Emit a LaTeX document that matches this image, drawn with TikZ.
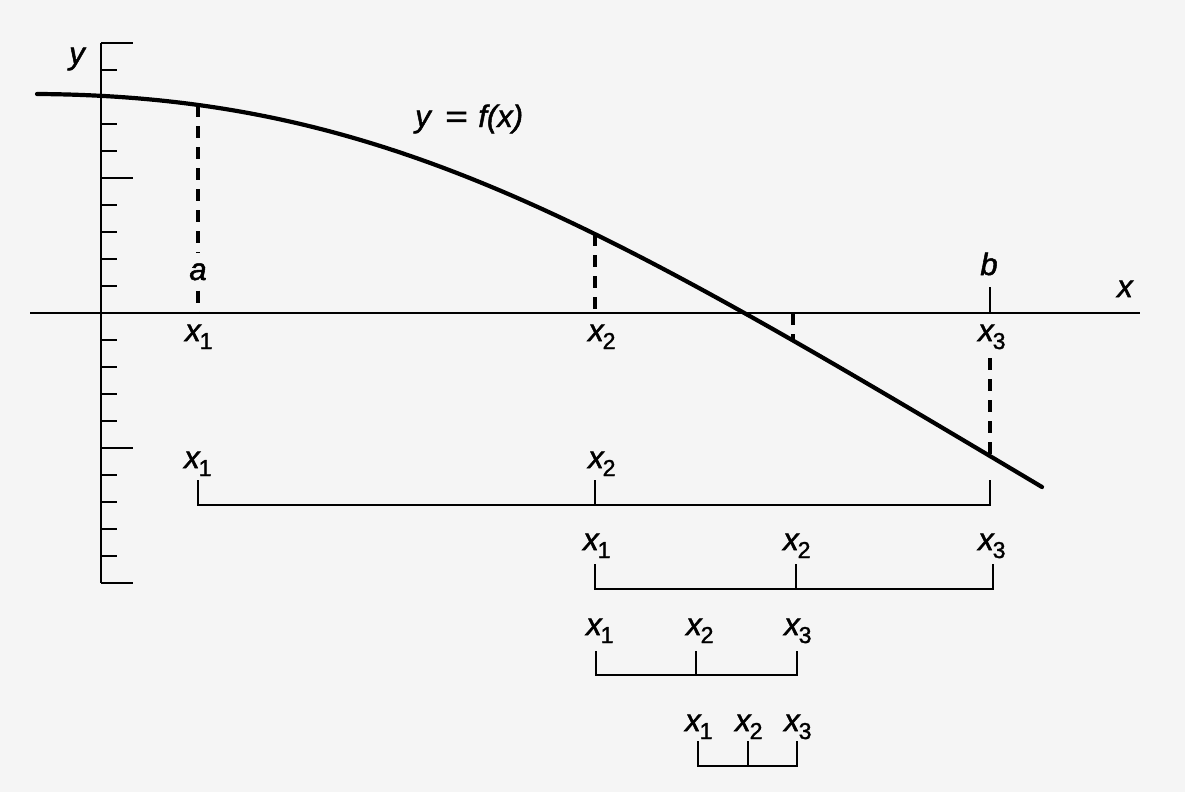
\documentclass[tikz,border=0pt]{standalone}
\usepackage{graphicx}
\usepackage{fontspec}
\setmainfont{Liberation Sans}
\newfontfamily\lblfont{Liberation Sans}[UprightFeatures={FakeBold=1.6}, ItalicFeatures={FakeBold=1.6}]
\definecolor{bg}{RGB}{245,245,245}
\newcommand{\xsb}[1]{x\kern-1pt\raisebox{-8pt}{\upshape\fontsize{23}{23}\selectfont #1}}
\begin{document}
\begin{tikzpicture}[x=1pt,y=-1pt,
  lbl/.style={inner sep=0pt, anchor=base west, font=\lblfont\fontsize{31}{36}\selectfont\itshape},
  axisline/.style={line width=2.8pt},
  curveline/.style={line width=4.2pt, line cap=round},
  dashline/.style={line width=4pt, dash pattern=on 12pt off 9pt},
  tk/.style={line width=2.4pt},
  brk/.style={line width=2.2pt, line join=miter}]
\fill[bg] (0,0) rectangle (1185,792);
\useasboundingbox (0,0) rectangle (1185,792);

% axes
\coordinate (ytop) at (101,43);
\coordinate (ybot) at (101,583);
\coordinate (xleft) at (30,313);
\coordinate (xright) at (1140,313);
\draw[axisline] (ytop) -- (ybot);
\draw[axisline] (xleft) -- (xright);
\foreach \t in {70,97,124,151,205,232,259,286,340,367,394,421,475,502,529,556}
  \draw[tk] (101,\t) -- (117,\t);
\foreach \t in {43,178,448,583}
  \draw[tk] (101,\t) -- (133,\t);

\node[lbl] (ylab) at (69,64) {y};
\node[lbl] (xlab) at (1117,297) {x};

% curve
\coordinate (cstart) at (37,94);
\coordinate (cend) at (1042,487);
\draw[curveline] (cstart) .. controls (387,96) and (600,224) .. (cend);
\node[lbl] (flab) at (415,127) {y\hspace{14pt}\scalebox{1.25}[1]{=}\hspace{11pt}f(x)};

% points on curve and axis
\coordinate (ca) at (198,105);
\coordinate (aax) at (198,313);
\coordinate (c2) at (595,234);
\coordinate (a2) at (595,313);
\coordinate (cm) at (793,340);
\coordinate (am) at (793,313);
\coordinate (c3) at (990,456);
\coordinate (d3) at (990,358);
\coordinate (bax) at (990,313);
\coordinate (btop) at (990,287);

\node[lbl, anchor=base, inner xsep=0pt, inner ysep=10pt] (alab) at (198,280) {a};
\node[lbl, anchor=base] (blab) at (989,275) {b};

\draw[dashline] (ca) -- (alab.north);
\draw[dashline] (alab.south) -- (aax);
\draw[dashline] (c2) -- (a2);
\draw[dashline] (am) -- (cm);
\draw[dashline] (d3) -- (c3);
\draw[tk] (btop) -- (bax);

% row 1 labels
\node[lbl] (r1a) at (185,341) {\xsb{1}};
\node[lbl] (r1b) at (588,341) {\xsb{2}};
\node[lbl] (r1c) at (978,341) {\xsb{3}};

% row 2
\node[lbl] (r2a) at (184,468) {\xsb{1}};
\node[lbl] (r2b) at (588,468) {\xsb{2}};
\coordinate (p2a) at (198,480); \coordinate (q2a) at (198,505);
\coordinate (p2b) at (595,480); \coordinate (q2b) at (595,505);
\coordinate (p2c) at (990,480); \coordinate (q2c) at (990,505);
\draw[brk] (p2a) -- (q2a) -- (q2c) -- (p2c);
\draw[brk] (p2b) -- (q2b);

% row 3
\node[lbl] (r3a) at (583,550) {\xsb{1}};
\node[lbl] (r3b) at (783,550) {\xsb{2}};
\node[lbl] (r3c) at (978,550) {\xsb{3}};
\coordinate (p3a) at (595,564); \coordinate (q3a) at (595,589);
\coordinate (p3b) at (796,564); \coordinate (q3b) at (796,589);
\coordinate (p3c) at (993,564); \coordinate (q3c) at (993,589);
\draw[brk] (p3a) -- (q3a) -- (q3c) -- (p3c);
\draw[brk] (p3b) -- (q3b);

% row 4
\node[lbl] (r4a) at (586,635) {\xsb{1}};
\node[lbl] (r4b) at (686,635) {\xsb{2}};
\node[lbl] (r4c) at (784,635) {\xsb{3}};
\coordinate (p4a) at (596,651); \coordinate (q4a) at (596,675);
\coordinate (p4b) at (696,651); \coordinate (q4b) at (696,675);
\coordinate (p4c) at (797,651); \coordinate (q4c) at (797,675);
\draw[brk] (p4a) -- (q4a) -- (q4c) -- (p4c);
\draw[brk] (p4b) -- (q4b);

% row 5
\node[lbl] (r5a) at (685,731) {\xsb{1}};
\node[lbl] (r5b) at (735,731) {\xsb{2}};
\node[lbl] (r5c) at (784,731) {\xsb{3}};
\coordinate (p5a) at (698,741); \coordinate (q5a) at (698,766);
\coordinate (p5b) at (748,741); \coordinate (q5b) at (748,766);
\coordinate (p5c) at (797,741); \coordinate (q5c) at (797,766);
\draw[brk] (p5a) -- (q5a) -- (q5c) -- (p5c);
\draw[brk] (p5b) -- (q5b);
\end{tikzpicture}
\end{document}
